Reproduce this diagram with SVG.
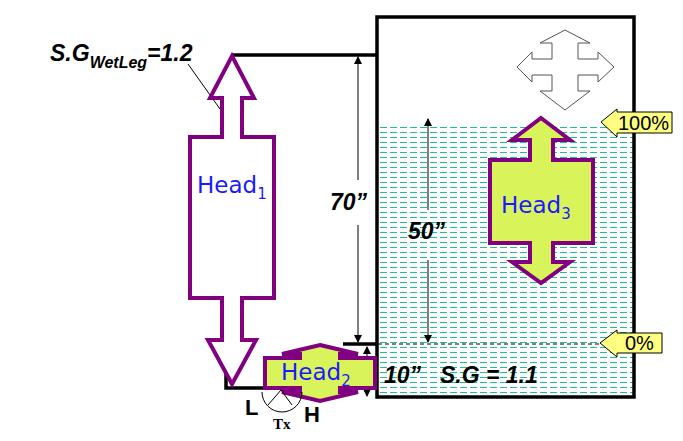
<svg xmlns="http://www.w3.org/2000/svg" width="683" height="441" viewBox="0 0 683 441">
<defs>
<pattern id="liq" width="10" height="5" patternUnits="userSpaceOnUse"><line x1="0" y1="2.5" x2="7" y2="2.5" stroke="#1fbf90" stroke-width="1"/></pattern>
<marker id="ar" markerWidth="8" markerHeight="8" refX="7" refY="4" orient="auto" markerUnits="userSpaceOnUse"><path d="M0,0 L8,4 L0,8 z" fill="#000"/></marker>
<style>
.pipe{stroke:#000;stroke-width:3.5;fill:none}
.dim{stroke:#000;stroke-width:1;fill:none;marker-end:url(#ar)}
.big{font-family:"Liberation Sans",Arial,sans-serif;font-weight:bold;font-style:italic;font-size:23px;fill:#000}
.head{font-family:"Comic Sans MS","DejaVu Sans",sans-serif;font-size:23px;fill:#1a1aff}
.arr{stroke:#800080;stroke-width:4;stroke-linejoin:miter}
.call{fill:#ffff80;stroke:#000;stroke-width:1}
.pct{font-family:"Liberation Sans",Arial,sans-serif;font-size:20px;fill:#000}
</style>
</defs>
<rect width="683" height="441" fill="#fff"/>
<g id="tank">
<rect x="378" y="127" width="255" height="269" fill="url(#liq)"/>
<rect x="377" y="17" width="257" height="380" fill="none" stroke="#000" stroke-width="3.5"/>
</g>
<g id="connectors">
<line class="pipe" x1="232" y1="55" x2="377" y2="55"/>
<polyline class="pipe" points="226,345 226,388 264,388"/>
<line class="pipe" x1="343" y1="344" x2="377" y2="344"/>
<line x1="378" y1="344" x2="606" y2="344" stroke="#000" stroke-dasharray="4,3"/>
<line class="dim" x1="358" y1="180" x2="358" y2="57" stroke="#555"/>
<line class="dim" x1="358" y1="225" x2="358" y2="342" stroke="#555"/>
<line class="dim" x1="428" y1="210" x2="428" y2="119"/>
<line class="dim" x1="428" y1="260" x2="428" y2="342"/>
<line class="dim" x1="367" y1="370" x2="367" y2="347"/>
<line class="dim" x1="367" y1="370" x2="367" y2="396"/>
<line x1="188" y1="64" x2="220" y2="109" stroke="#000" stroke-width="1"/>
</g>
<g id="head1">
<polygon class="arr" fill="#fff" points="232,56 254,98 242,98 242,137 274,137 274,298 242,298 242,340 256,340 232,384 208,340 222,340 222,298 190,298 190,137 222,137 222,98 210,98"/>
<text class="head" x="197" y="193">Head<tspan font-size="15" dy="6">1</tspan></text>
</g>
<g id="head2">
<polygon class="arr" fill="#d9f45a" points="320,345 358,354 340,354 340,358 375,358 375,388 340,388 340,392 358,392 320,401 282,392 300,392 300,388 265,388 265,358 300,358 300,354 282,354"/>
<text class="head" x="281" y="380">Head<tspan font-size="15" dy="6">2</tspan></text>
</g>
<g id="tx">
<path d="M262,392 A20,20 0 0 0 302,392" fill="none" stroke="#000" stroke-width="1"/>
<line x1="281" y1="390" x2="268" y2="405" stroke="#000"/>
<line x1="281" y1="390" x2="292" y2="405" stroke="#000"/>
<text x="245" y="415" font-family="Liberation Sans,Arial,sans-serif" font-weight="bold" font-size="22">L</text>
<text x="304" y="422" font-family="Liberation Sans,Arial,sans-serif" font-weight="bold" font-size="22">H</text>
<text x="273" y="429" font-family="Liberation Serif,Times New Roman,serif" font-weight="bold" font-size="15">Tx</text>
</g>
<g id="head3">
<polygon class="arr" fill="#d9f45a" points="541,118 570,140 553,140 553,160 593,160 593,243 553,243 553,262 570,262 541,283 512,262 530,262 530,243 490,243 490,160 530,160 530,140 512,140"/>
<text class="head" x="501" y="213">Head<tspan font-size="15" dy="6">3</tspan></text>
</g>
<g id="move">
<polygon fill="#fff" stroke="#555" stroke-width="1" points="565,30 590,43 578,43 578,59 598,59 598,52 614,67 598,82 598,75 578,75 578,91 590,91 565,110 540,91 552,91 552,75 532,75 532,82 517,67 532,52 532,59 552,59 552,43 540,43"/>
</g>
<g id="c100">
<polygon class="call" points="601,122 617,109 617,112 672,112 672,133 617,133 617,137"/>
<text class="pct" x="618" y="130">100%</text>
</g>
<g id="c0">
<polygon class="call" points="600,343 617,330 617,333 662,333 662,353 617,353 617,357"/>
<text class="pct" x="625" y="350">0%</text>
</g>
<g id="labels">
<text class="big" x="50" y="61">S.G<tspan font-size="16" dy="7">WetLeg</tspan><tspan dy="-7">=1.2</tspan></text>
<text class="big" x="330" y="210">70”</text>
<text class="big" x="408" y="239">50”</text>
<text class="big" x="384" y="383">10”</text>
<text class="big" x="440" y="383">S.G = 1.1</text>
</g>
</svg>
